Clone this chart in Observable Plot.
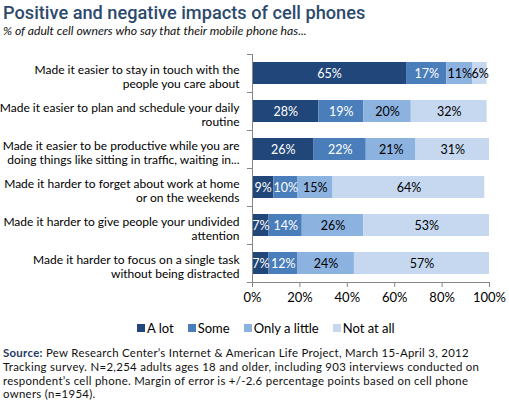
<!DOCTYPE html>
<html><head><meta charset="utf-8">
<script src="https://cdn.jsdelivr.net/npm/d3@7"></script>
<script src="https://cdn.jsdelivr.net/npm/@observablehq/plot@0.6"></script>
<style>
body{margin:0;background:#fff;width:509px;height:404px;overflow:hidden;position:relative;font-family:Lato,sans-serif;color:#000;}
#title{position:absolute;left:3px;top:3px;font-family:Roboto;font-weight:500;font-size:18.2px;line-height:20px;color:#2c4a6d;white-space:nowrap;}
#subtitle{position:absolute;left:3px;top:24px;font-family:Lato;font-style:italic;font-size:12.2px;line-height:14px;color:#111;white-space:nowrap;}
#chart{position:absolute;left:0;top:44px;}
#legend{position:absolute;left:137px;top:320px;display:flex;font-size:13px;white-space:nowrap;}
#legend .item{display:flex;align-items:center;margin-right:14px;}
#legend .sw{width:8px;height:8px;margin-right:2px;}
#source{position:absolute;left:3px;top:346px;font-size:11.4px;line-height:13.8px;letter-spacing:0.3px;white-space:nowrap;color:#111;}
#source div{height:13.8px;}
</style></head><body>
<div id="title">Positive and negative impacts of cell phones</div>
<div id="subtitle">% of adult cell owners who say that their mobile phone has...</div>
<div id="chart"></div>
<div id="legend"></div>
<div id="source"><div><span style="color:#1f3a5f;font-weight:700">Source:</span> Pew Research Center’s Internet &amp; American Life Project, March 15-April 3, 2012</div><div>Tracking survey. N=2,254 adults ages 18 and older, including 903 interviews conducted on</div><div>respondent’s cell phone. Margin of error is +/-2.6 percentage points based on cell phone</div><div>owners (n=1954).</div></div>
<script>
const categories = [
  "Made it easier to stay in touch with the\npeople you care about",
  "Made it easier to plan and schedule your daily\nroutine",
  "Made it easier to be productive while you are\ndoing things like sitting in traffic, waiting in...",
  "Made it harder to forget about work at home\nor on the weekends",
  "Made it harder to give people your undivided\nattention",
  "Made it harder to focus on a single task\nwithout being distracted"
];
const series = ["A lot", "Some", "Only a little", "Not at all"];
const aLot = [65, 28, 26, 9, 7, 7];
const some = [17, 19, 22, 10, 14, 12];
const onlyALittle = [11, 20, 21, 15, 26, 24];
const notAtAll = [6, 32, 31, 64, 53, 57];
const xTicks = [0, 20, 40, 60, 80, 100];
const colors = ["#21477a", "#4a7ebb", "#8cb2e0", "#c5d8f0"];

const values = [aLot, some, onlyALittle, notAtAll];
const rows = [];
categories.forEach((cat, i) => {
  let acc = 0;
  series.forEach((s, j) => {
    const v = values[j][i];
    rows.push({cat, idx: i, series: s, si: j, value: v, x1: acc, x2: acc + v});
    acc += v;
  });
});

const fontFamily = "Lato";
const plot = Plot.plot({
  width: 509,
  height: 270,
  marginTop: 10,
  marginBottom: 32,
  marginLeft: 252,
  marginRight: 20,
  style: {fontFamily, fontSize: "12px", color: "#000", background: "transparent"},
  x: {domain: [0, 100]},
  y: {domain: [0, categories.length], reverse: true},
  color: {domain: series, range: colors},
  marks: [
    Plot.rectX(rows, {x1: "x1", x2: "x2", y1: d => d.idx, y2: d => d.idx + 1, insetTop: 8, insetBottom: 8, fill: "series"}),
    Plot.text(rows.filter(d => d.si < 2), {x: d => (d.x1 + d.x2) / 2, y: d => d.idx + 0.5, text: d => d.value + "%", fill: "white", fontSize: 12.5}),
    Plot.text(rows.filter(d => d.si >= 2), {x: d => (d.x1 + d.x2) / 2, y: d => d.idx + 0.5, text: d => d.value + "%", fill: "black", fontSize: 12.5}),
    Plot.ruleX([0], {stroke: "#868686"}),
    Plot.ruleY([categories.length], {stroke: "#868686"}),
    Plot.axisY({ticks: d3.range(categories.length + 1), tickSize: 5, tickFormat: () => "", stroke: "#868686"}),
    Plot.axisY({ticks: categories.map((c, i) => i + 0.5), tickSize: 0, tickPadding: 13, tickFormat: i => categories[Math.floor(i)], fontSize: 12, dy: 3, lineHeight: 1.15}),
    Plot.axisX({ticks: xTicks, tickSize: 5, tickPadding: 5, tickFormat: d => d + "%", fontSize: 13, stroke: "#868686"})
  ]
});
document.getElementById("chart").appendChild(plot);

const legend = document.getElementById("legend");
series.forEach((s, j) => {
  const it = document.createElement("div");
  it.className = "item";
  it.innerHTML = `<span class="sw" style="background:${colors[j]}"></span><span>${s}</span>`;
  legend.appendChild(it);
});
</script>
</body></html>
